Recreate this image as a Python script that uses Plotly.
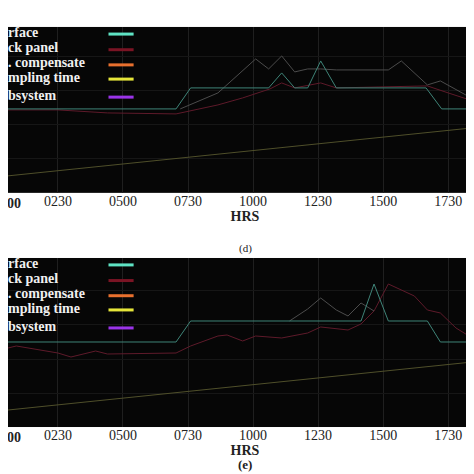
import plotly.graph_objects as go

# hours of day; y in arbitrary level units
tick_hours = [2.5, 5, 7.5, 10, 12.5, 15, 17.5]
tick_text = ["0230", "0500", "0730", "1000", "1230", "1500", "1730"]
legend_names = ["rface", "ck panel", ". compensate", "mpling time", "bsystem"]
legend_colors = ["#5fe3c4", "#7a1424", "#e8702e", "#e6e63a", "#9a34e8"]

# panel (d)
d_surf_x = [0.58, 7.04, 7.6, 10.6, 11.1, 11.6, 12.1, 12.6, 13.2, 16.65, 17.25, 18.8]
d_surf_y = [84, 84, 105, 105, 120, 105, 105, 132, 105, 105, 84, 84]
d_gray_x = [7.2, 8.65, 10.1, 10.6, 11.1, 11.6, 12.1, 12.6, 13.2, 15.2, 15.7, 16.7, 17.2, 18.8]
d_gray_y = [84, 100, 134, 124, 137, 121, 124, 124, 123, 123, 132, 108, 112, 89]
d_back_x = [0.58, 2.5, 4.4, 7.04, 8.65, 9.6, 10.65, 11.1, 11.6, 12.6, 13.2, 16.7, 17.5, 18.8]
d_back_y = [83, 83, 80, 79, 88, 95, 104, 110, 105, 110, 105, 107, 100, 89]
d_samp_x = [0.58, 18.8]
d_samp_y = [17, 66]

# panel (e)
e_surf_x = [0.58, 7.04, 7.6, 14.15, 14.65, 15.2, 16.7, 17.2, 18.8]
e_surf_y = [85, 85, 106, 106, 143, 106, 106, 85, 85]
e_gray_x = [11.4, 12.1, 12.6, 13.2, 13.65, 14.15, 14.65]
e_gray_y = [106, 118, 129, 117, 111, 124, 116]
e_back_x = [0.58, 0.9, 2.5, 3.0, 3.95, 4.4, 7.04, 7.6, 8.65, 9.0, 9.6, 10.1, 11.1,
            12.1, 12.6, 13.65, 14.15, 14.65, 15.2, 16.2, 16.7, 17.2, 17.8, 18.3, 18.8]
e_back_y = [79, 81, 74, 70, 76, 73, 74, 81, 91, 92, 86, 91, 89,
            94, 100, 97, 103, 116, 143, 131, 117, 114, 99, 91, 89]
e_samp_x = [0.58, 18.8]
e_samp_y = [17, 66]

fig = go.Figure()

def add_panel(xa, ya, surf, gray, back, samp):
    for (xs, ys), col in [(samp, "#4f4f2a"), (back, "#5e1a2a"), (gray, "#4c4c4c"), (surf, "#3f8478")]:
        fig.add_trace(go.Scatter(x=xs, y=ys, mode="lines", xaxis=xa, yaxis=ya,
                                 line=dict(color=col, width=1), showlegend=False))

add_panel("x", "y", (d_surf_x, d_surf_y), (d_gray_x, d_gray_y), (d_back_x, d_back_y), (d_samp_x, d_samp_y))
add_panel("x2", "y2", (e_surf_x, e_surf_y), (e_gray_x, e_gray_y), (e_back_x, e_back_y), (e_samp_x, e_samp_y))

tickfont = dict(family="Liberation Serif", size=14, color="#222222")
axx = dict(range=[0.58, 18.8], tickvals=tick_hours, ticktext=tick_text, tickfont=tickfont,
           tickprefix="<b>", ticksuffix="</b>", ticklabelstandoff=-2,
           showgrid=True, gridcolor="#1f1f1f", gridwidth=1, zeroline=False, ticks="",
           showline=False, title=dict(text="<b>HRS</b>", font=dict(family="Liberation Serif", size=14, color="#222"),
                                      standoff=0))
ayy = dict(showticklabels=False, showgrid=True, gridcolor="#161616", dtick=34, zeroline=False)
fig.update_layout(
    width=474, height=474, margin=dict(l=0, r=0, t=0, b=0),
    paper_bgcolor="white", plot_bgcolor="#060606",
    xaxis=dict(axx, domain=[0, 1], anchor="y"),
    xaxis2=dict(axx, domain=[0, 1], anchor="y2"),
    yaxis=dict(ayy, domain=[0.61, 0.96], range=[0, 166]),
    yaxis2=dict(ayy, domain=[0.116, 0.4726], range=[0, 169]),
)

legend_rows = [0.949, 0.916, 0.884, 0.854, 0.816]
for top, ysub in [(0, 0), (1, 0.487)]:
    for i, (name, col) in enumerate(zip(legend_names, legend_colors)):
        yy = legend_rows[i] - ysub
        fig.add_annotation(xref="paper", yref="paper", x=-0.004, y=yy, xanchor="left", yanchor="middle",
                           text="<b>%s</b>" % name, showarrow=False,
                           font=dict(family="Liberation Serif", size=14, color="#f0f0f0"))
        fig.add_shape(type="line", xref="paper", yref="paper", x0=0.212, x1=0.265, y0=yy - 0.004, y1=yy - 0.004,
                      line=dict(color=col, width=3))
    # the cut-off first tick label
    fig.add_annotation(xref="paper", yref="paper", x=-0.006, y=(0.608 if top == 0 else 0.114), xanchor="left",
                       yanchor="top", text="<b>00</b>", showarrow=False, font=tickfont)

fig.add_annotation(xref="paper", yref="paper", x=0.5, y=0.493, text="(d)", showarrow=False,
                   font=dict(family="Liberation Serif", size=11, color="#222"))
fig.add_annotation(xref="paper", yref="paper", x=0.5, y=0.017, text="<b>(e)</b>", showarrow=False,
                   font=dict(family="Liberation Serif", size=13, color="#222"))

fig.write_html("out.html")
